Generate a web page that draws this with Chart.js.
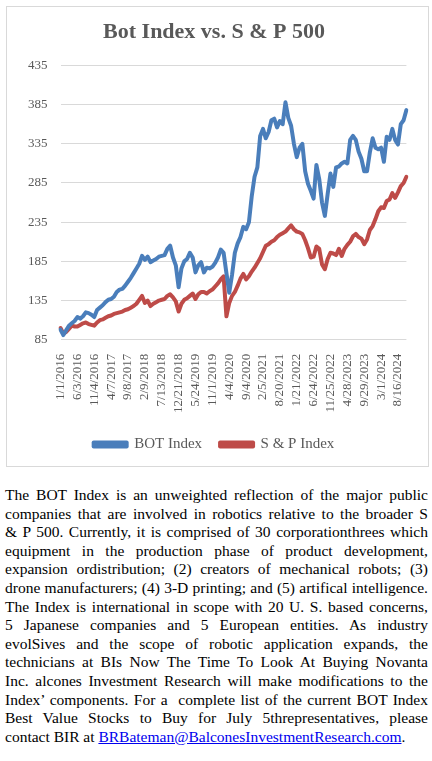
<!DOCTYPE html>
<html>
<head>
<meta charset="utf-8">
<script src="https://cdn.jsdelivr.net/npm/chart.js@4.4.1/dist/chart.umd.min.js"></script>
<style>
  html, body { margin: 0; padding: 0; background: #fff; }
  body { width: 432px; height: 761px; position: relative; overflow: hidden; }
  #box {
    position: absolute; left: 6px; top: 6px; width: 421px; height: 459px;
    border: 1px solid #d9d9d9;
  }
  #text {
    position: absolute; left: 5px; top: 486px; width: 423px;
    font-family: 'Liberation Serif', serif; font-size: 15.5px; line-height: 18.6px;
    color: #000;
  }
  #text .ln { display: block; text-align: justify; text-align-last: justify; }
  #text .ln.last { text-align-last: left; }
  #text a { color: #0000ee; text-decoration: underline; }
</style>
</head>
<body>
<div id="box"><canvas id="my-chart"></canvas></div>
<div id="text">
  <span class="ln">The BOT Index is an unweighted reflection of the major public</span>
  <span class="ln">companies that are involved in robotics relative to the broader S</span>
  <span class="ln">&amp; P 500. Currently, it is comprised of 30 corporationthrees which</span>
  <span class="ln">equipment in the production phase of product development,</span>
  <span class="ln">expansion ordistribution; (2) creators of mechanical robots; (3)</span>
  <span class="ln">drone manufacturers; (4) 3-D printing; and (5) artifical intelligence.</span>
  <span class="ln">The Index is international in scope with 20 U. S. based concerns,</span>
  <span class="ln">5 Japanese companies and 5 European entities. As industry</span>
  <span class="ln">evolSives and the scope of robotic application expands, the</span>
  <span class="ln">technicians at BIs Now The Time To Look At Buying Novanta</span>
  <span class="ln">Inc. alcones Investment Research will make modifications to the</span>
  <span class="ln">Index’ components. For a&nbsp; complete list of the current BOT Index</span>
  <span class="ln">Best Value Stocks to Buy for July 5threpresentatives, please</span>
  <span class="ln last">contact BIR at <a href="#">BRBateman@BalconesInvestmentResearch.com</a>.</span>
</div>
<script>
// tick labels shown on the date axis (one every 6 points)
const tickLabels = ['1/1/2016', '6/3/2016', '11/4/2016', '4/7/2017', '9/8/2017', '2/9/2018',
    '7/13/2018', '12/21/2018', '5/24/2019', '11/1/2019', '4/4/2020', '9/4/2020', '2/5/2021',
    '8/20/2021', '1/21/2022', '6/24/2022', '11/25/2022', '4/28/2023', '9/29/2023', '3/1/2024',
    '8/16/2024'];
const STEP = 6;

const botIndex = [
    98, 91, 97, 103, 106, 109, 114, 112, 115, 120, 119, 117, 114, 123, 126, 129, 133, 136, 137, 140,
    146, 149, 150, 154, 159, 164, 170, 176, 182, 192, 187, 191, 184, 186, 188, 191, 192, 193, 201, 205,
    190, 180, 152, 176, 185, 188, 196, 190, 171, 180, 184, 171, 177, 176, 178, 183, 190, 200, 196, 170,
    145, 168, 196, 208, 216, 229, 226, 235, 268, 293, 305, 345, 354, 342, 350, 365, 367, 356, 364, 360,
    388, 368, 358, 335, 318, 330, 335, 300, 284, 275, 265, 308, 290, 260, 243, 271, 297, 280, 305, 306,
    310, 312, 310, 340, 345, 340, 325, 316, 300, 300, 324, 342, 330, 328, 330, 312, 344, 340, 354, 340,
    334, 360, 365, 378
];
const spIndex = [
    100, 93, 95, 99, 103, 102, 102, 104, 106, 107, 105, 104, 103, 107, 110, 111, 113, 115, 116, 118,
    119, 120, 121, 123, 124, 126, 128, 131, 136, 141, 132, 135, 128, 131, 133, 135, 136, 137, 141, 143,
    139, 134, 121, 131, 136, 138, 141, 144, 137, 143, 146, 146, 144, 147, 149, 153, 157, 162, 166, 115,
    132, 141, 146, 154, 163, 169, 162, 166, 172, 177, 183, 189, 197, 205, 207, 210, 212, 216, 219, 221,
    223, 227, 231, 226, 223, 222, 220, 212, 202, 190, 191, 204, 201, 181, 175, 188, 196, 195, 193, 201,
    192, 201, 206, 210, 217, 220, 216, 214, 207, 213, 225, 230, 239, 249, 254, 253, 262, 264, 272, 266,
    273, 281, 285, 293
];

const labels = botIndex.map((v, i) => (i % STEP === 0 && tickLabels[i / STEP]) ? tickLabels[i / STEP] : '');

Chart.defaults.font.family = "'Liberation Serif', 'Times New Roman', serif";
Chart.defaults.color = '#595959';

document.addEventListener('DOMContentLoaded', () => {
    // shrink the paragraph font a bit if a justified line would not fit
    const lines = document.querySelectorAll('#text .ln');
    const mctx = document.createElement('canvas').getContext('2d');
    mctx.font = "15.5px 'Liberation Serif'";
    let widest = 0;
    lines.forEach(l => { widest = Math.max(widest, mctx.measureText(l.textContent).width); });
    if (widest > 422) {
        document.getElementById('text').style.fontSize = (15.5 * 422 / widest).toFixed(2) + 'px';
    }

    const ctx = document.getElementById('my-chart').getContext('2d');
    new Chart(ctx, {
        type: 'line',
        data: {
            labels: labels,
            datasets: [
                {
                    label: 'BOT Index',
                    data: botIndex,
                    borderColor: '#4a7ebb',
                    backgroundColor: '#4a7ebb',
                    borderWidth: 4,
                    pointRadius: 0,
                    borderJoinStyle: 'round',
                    borderCapStyle: 'round'
                },
                {
                    label: 'S & P Index',
                    data: spIndex,
                    borderColor: '#be4b48',
                    backgroundColor: '#be4b48',
                    borderWidth: 4,
                    pointRadius: 0,
                    borderJoinStyle: 'round',
                    borderCapStyle: 'round'
                }
            ]
        },
        options: {
            responsive: true,
            maintainAspectRatio: false,
            animation: false,
            layout: { padding: { left: 8, right: 15, top: 0, bottom: 4 } },
            scales: {
                x: {
                    offset: false,
                    grid: { display: false },
                    border: { display: false },
                    ticks: {
                        autoSkip: false,
                        maxRotation: 90,
                        minRotation: 90,
                        padding: 6,
                        font: { size: 13 },
                        color: '#595959'
                    }
                },
                y: {
                    min: 85,
                    max: 435,
                    grid: { color: '#d9d9d9', lineWidth: 1, drawTicks: false },
                    border: { display: false },
                    ticks: {
                        stepSize: 50,
                        padding: 13,
                        font: { size: 13 },
                        color: '#595959'
                    }
                }
            },
            plugins: {
                legend: {
                    display: true,
                    position: 'bottom',
                    labels: {
                        boxWidth: 33,
                        boxHeight: 4,
                        padding: 18,
                        font: { size: 15 },
                        color: '#595959'
                    }
                },
                title: {
                    display: true,
                    text: 'Bot Index vs. S & P 500',
                    font: { size: 22, weight: 'bold' },
                    color: '#595959',
                    padding: { top: 12, bottom: 20 }
                },
                tooltip: { enabled: false }
            }
        }
    });
});
</script>
</body>
</html>
